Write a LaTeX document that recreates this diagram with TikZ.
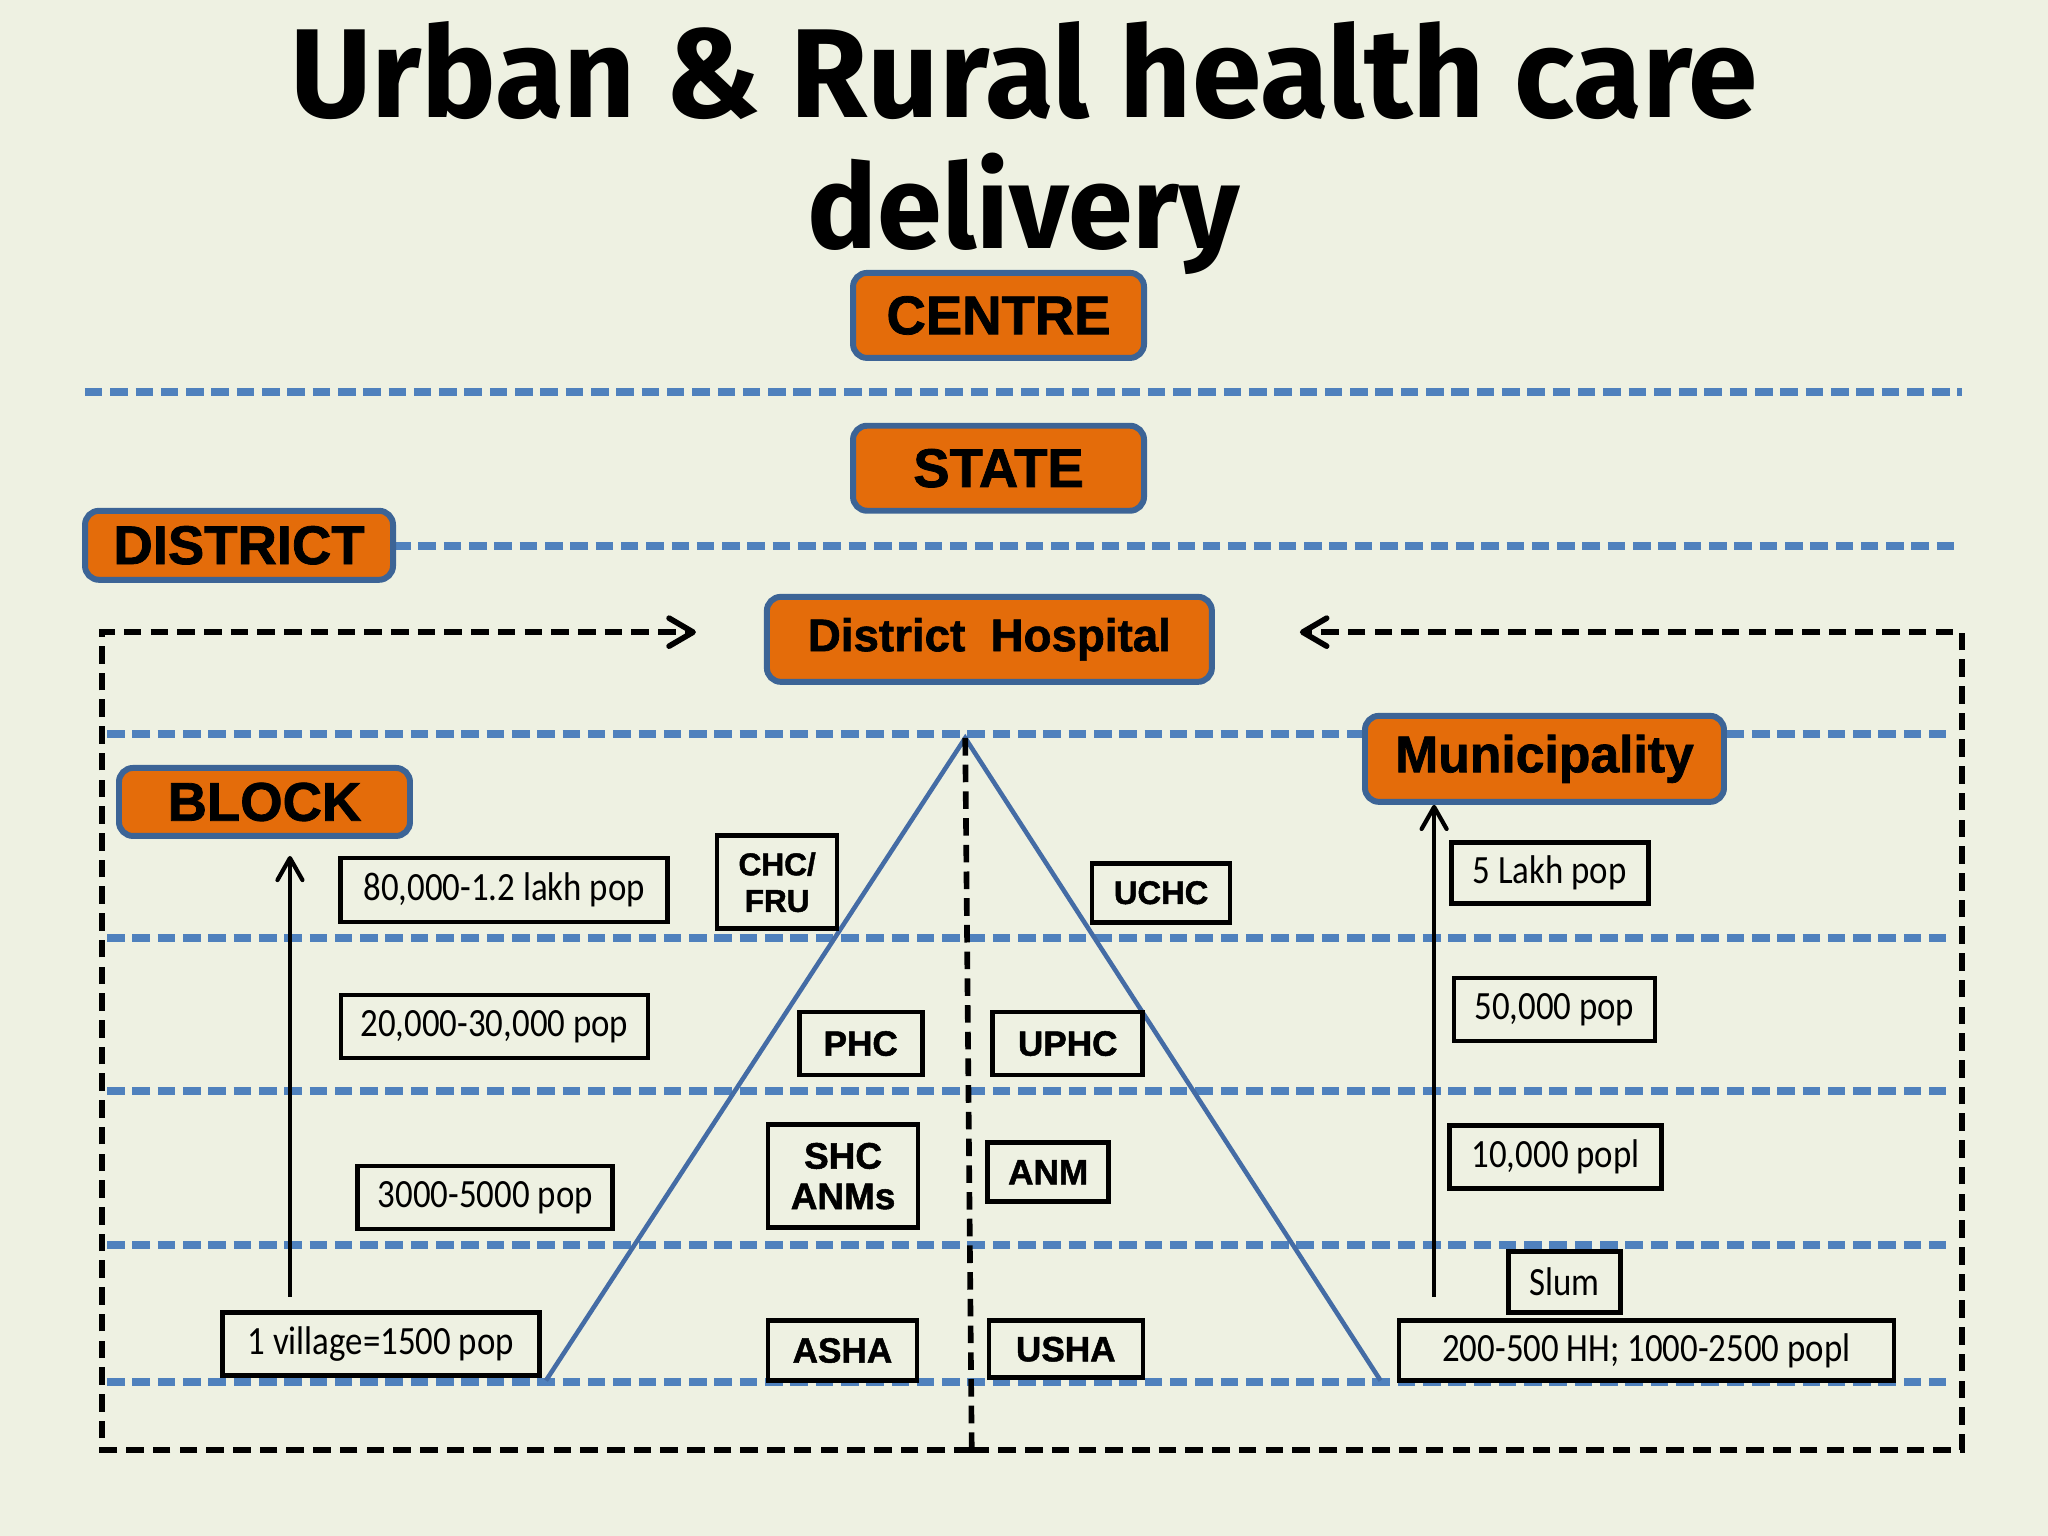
\documentclass[tikz,border=0pt]{standalone}
\usepackage{fontspec}
\setmainfont{Liberation Sans}
\newfontfamily\titlefont[FakeStretch=0.99]{Fira Sans}
\newfontfamily\popfont[FakeStretch=0.87]{Carlito}
\newfontfamily\heavyfont[FakeBold=1.4]{Liberation Sans Bold}
\usetikzlibrary{arrows.meta,positioning}

\definecolor{slidebg}{RGB}{238,241,226}
\definecolor{tierfill}{RGB}{228,108,10}
\definecolor{tieredge}{RGB}{60,100,150}
\definecolor{levelblue}{RGB}{79,129,189}
\definecolor{pyrblue}{RGB}{68,108,165}

\tikzset{
	tierbox/.style={draw=tieredge, line width=1.7pt, fill=tierfill, rounded corners=1.4mm, inner sep=0pt, font=\heavyfont\fontsize{15.5}{18}\selectfont},
	unitbox/.style={draw, line width=1.3pt, inner sep=0pt, align=center, font=\heavyfont\fontsize{10}{11.5}\selectfont},
	popbox/.style={draw, line width=1.3pt, inner sep=0pt, font=\popfont\fontsize{11.4}{13}\selectfont},
	levelline/.style={levelblue, line width=2.3pt, dash pattern=on 5pt off 2.2pt},
	framedash/.style={line width=1.6pt, dash pattern=on 5pt off 2.6pt},
	pyrline/.style={pyrblue, line width=1.3pt},
	dashtip/.style={-{Straight Barb[length=2.4mm,width=2.8mm,round]}},
	uptip/.style={line width=1.2pt, -{Straight Barb[length=2.2mm,width=2.5mm,round]}}
}

\begin{document}
\begin{tikzpicture}[x=0.01306cm, y=-0.01306cm, thick]
	% slide
		\fill[slidebg] (0,0) rectangle (1568,1176);
	% title
		\node[anchor=base, font=\titlefont\bfseries\fontsize{36}{40}\selectfont] (title) at (784,90) {Urban \& Rural health care};
		\node[anchor=base, font=\titlefont\bfseries\fontsize{33.5}{38}\selectfont] (title2) at (784,190) {delivery};
	% levels
		\draw[levelline] (65,300) -- (1502,300);
		\draw[levelline] (301,418) -- (1502,418);
		\draw[levelline] (82,562) -- (1490,562);
		\draw[levelline] (82,718) -- (1490,718);
		\draw[levelline] (82,835) -- (1490,835);
		\draw[levelline] (82,953) -- (1490,953);
		\draw[levelline] (82,1058) -- (1490,1058);
	% pyramid
		\coordinate (apex) at (739,565);
		\coordinate (baseL) at (418,1057);
		\coordinate (baseR) at (1057,1057);
		\draw[pyrline] (baseL) -- (apex) -- (baseR);
	% rural / urban frame
		\coordinate (frameNW) at (78,484);
		\coordinate (frameNE) at (1502,484);
		\coordinate (frameSW) at (78,1110);
		\coordinate (frameSE) at (1502,1110);
		\coordinate (frameS) at (744,1110);
		\draw[framedash] (apex) -- (frameS);
	% tiers
		\node[tierbox, minimum width=2.91cm, minimum height=0.85cm] (centre) at (764.5,241.5) {CENTRE};
		\node[tierbox, minimum width=2.91cm, minimum height=0.85cm] (state) at (764.5,358.5) {STATE};
		\node[tierbox, minimum width=3.08cm, minimum height=0.69cm] (district) at (183,417.5) {DISTRICT};
		\node[tierbox, minimum width=4.45cm, minimum height=0.85cm, font=\heavyfont\fontsize{13}{15}\selectfont] (dh) at (757.5,489.5) {District\ \ Hospital};
		\node[tierbox, minimum width=2.91cm, minimum height=0.68cm] (block) at (202.5,614) {BLOCK};
		\node[tierbox, minimum width=3.59cm, minimum height=0.86cm, font=\heavyfont\fontsize{14.7}{17}\selectfont] (muni) at (1182.5,581) {Municipality};
	% rural side
		\node[popbox, minimum width=3.27cm, minimum height=0.64cm] (pop80k) at (386,681.5) {80,000-1.2 lakh pop};
		\node[popbox, minimum width=3.07cm, minimum height=0.63cm] (pop20k) at (378.5,786) {20,000-30,000 pop};
		\node[popbox, minimum width=2.55cm, minimum height=0.63cm] (pop3k) at (371.5,917) {3000-5000 pop};
		\node[popbox, minimum width=3.17cm, minimum height=0.63cm] (village) at (291.5,1029) {1 village=1500 pop};
		\node[unitbox, minimum width=1.20cm, minimum height=0.93cm, font=\heavyfont\fontsize{9}{10.4}\selectfont] (chc) at (595,675.5) {CHC/\\FRU};
		\node[unitbox, minimum width=1.23cm, minimum height=0.63cm] (phc) at (659,799) {PHC};
		\node[unitbox, minimum width=1.50cm, minimum height=1.03cm, font=\heavyfont\fontsize{10.5}{11.5}\selectfont] (shc) at (645.5,900.5) {SHC\\ANMs};
		\node[unitbox, minimum width=1.49cm, minimum height=0.60cm] (asha) at (645,1034) {ASHA};
	% urban side
		\node[unitbox, minimum width=1.38cm, minimum height=0.59cm, font=\heavyfont\fontsize{9.3}{11}\selectfont] (uchc) at (889,683.5) {UCHC};
		\node[unitbox, minimum width=1.50cm, minimum height=0.63cm] (uphc) at (817.5,799) {UPHC};
		\node[unitbox, minimum width=1.21cm, minimum height=0.59cm] (anm) at (802.5,897.5) {ANM};
		\node[unitbox, minimum width=1.54cm, minimum height=0.57cm] (usha) at (816,1033) {USHA};
		\node[popbox, minimum width=1.97cm, minimum height=0.61cm] (lakh5) at (1186.5,668.5) {5 Lakh pop};
		\node[popbox, minimum width=2.01cm, minimum height=0.63cm] (pop50k) at (1190,773) {50,000 pop};
		\node[popbox, minimum width=2.12cm, minimum height=0.63cm] (pop10k) at (1191,886) {10,000 popl};
		\node[popbox, minimum width=1.12cm, minimum height=0.61cm] (slum) at (1198,981.5) {Slum};
		\node[popbox, minimum width=4.95cm, minimum height=0.60cm] (hh) at (1260.5,1034) {200-500 HH; 1000-2500 popl};
	% frame arrows into district hospital
		\draw[framedash, dashtip, shorten >=0.68cm] (frameS) -- (frameSW) -- (frameNW) -- (dh.west |- frameNW);
		\draw[framedash, dashtip, shorten >=0.85cm] (frameS) -- (frameSE) -- (frameNE) -- (dh.east |- frameNE);
	% upward arrows
		\coordinate (blockfoot) at (222,993);
		\coordinate (munifoot) at (1098,993);
		\draw[uptip, shorten >=0.17cm] (blockfoot) -- (block.south -| blockfoot);
		\draw[uptip] (munifoot) -- (muni.south -| munifoot);
\end{tikzpicture}
\end{document}
